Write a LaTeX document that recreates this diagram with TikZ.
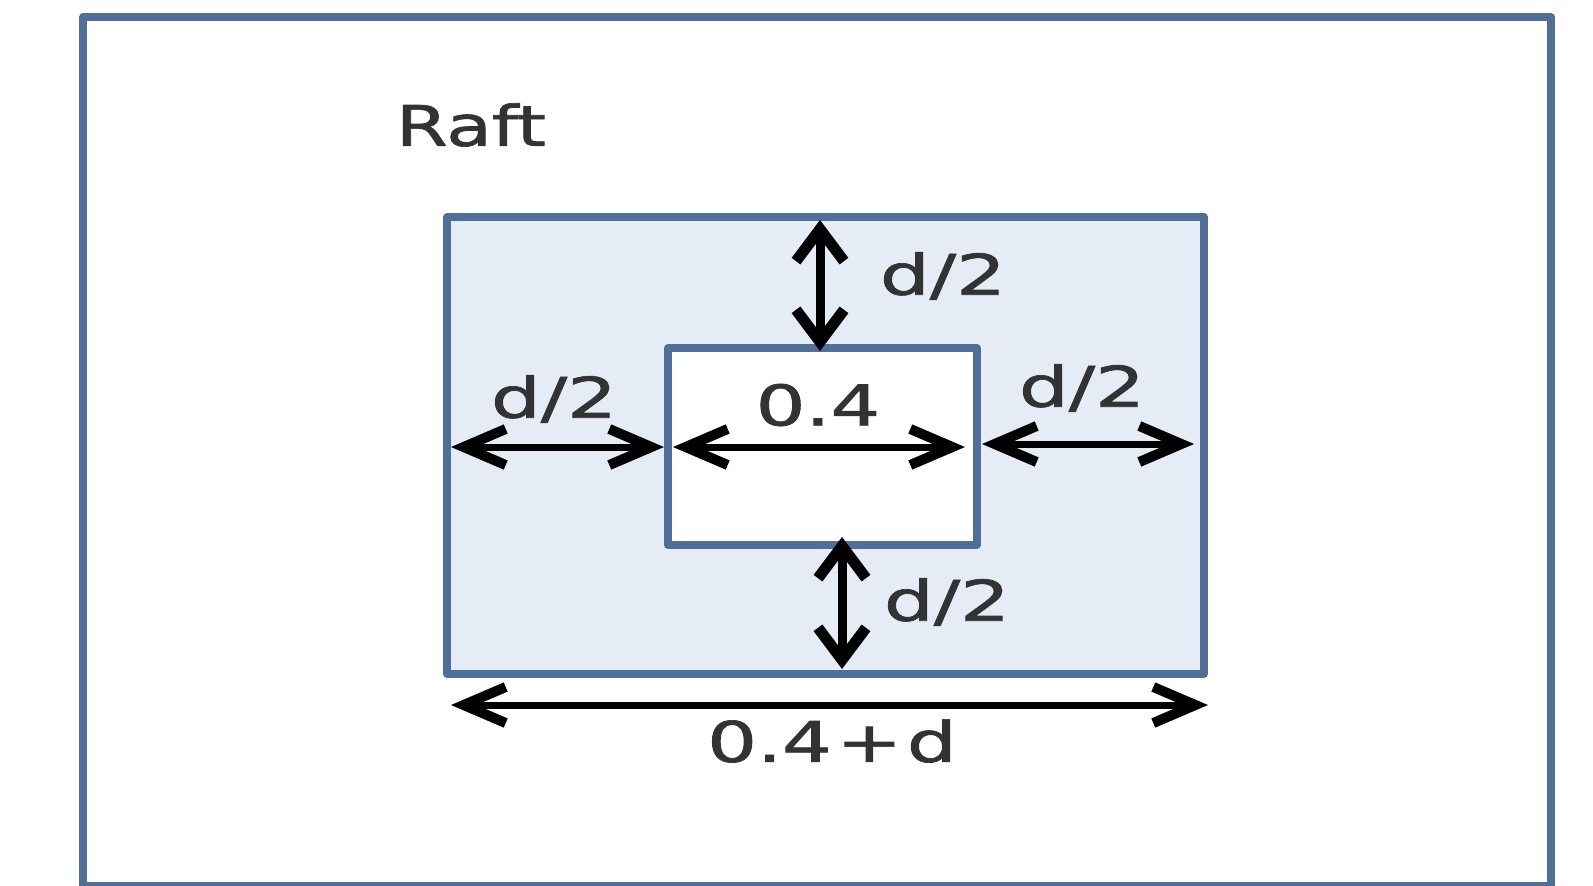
\documentclass[tikz,border=0pt]{standalone}
\usepackage{fontspec}
\setmainfont{DejaVu Sans}
\newfontfamily\raftfont[FakeBold=1.2]{DejaVu Sans}
\usetikzlibrary{arrows.meta}
\definecolor{raftblue}{HTML}{4F6F98}
\definecolor{raftfill}{HTML}{E6ECF6}
\begin{document}
\begin{tikzpicture}[%
        x=1pt, y=-1pt,
        myrect/.style={draw=raftblue, line width=7.5pt, line join=round},
        harrow/.style={draw=black, line width=7pt,
            {Straight Barb[length=42pt, width=36pt, line width=10pt]}-{Straight Barb[length=42pt, width=36pt, line width=10pt]}},
        varrow/.style={draw=black, line width=9pt,
            {Straight Barb[length=32pt, width=48pt, line width=11pt]}-{Straight Barb[length=32pt, width=48pt, line width=11pt]}},
        mylabel/.style={inner sep=0pt, text=black!80, xscale=1.4, transform shape,
            font=\raftfont\fontsize{56}{60}\selectfont}
    ]
        \useasboundingbox (0,0) rectangle (1593,886);
        \fill [white] (0,0) rectangle (1593,886);

        \coordinate (outerA) at (83,17);
        \coordinate (outerB) at (1551,886);
        \coordinate (raftA) at (447,217);
        \coordinate (raftB) at (1204,674);
        \coordinate (gateA) at (668,348);
        \coordinate (gateB) at (977,545);

        \draw [myrect] (outerA) rectangle (outerB);
        \draw [myrect, fill=raftfill] (raftA) rectangle (raftB);
        \draw [myrect, fill=white] (gateA) rectangle (gateB);

        % arrow ends
        \foreach \n/\xa/\ya/\xb/\yb/\sty in
            {top/820/220/820/351/varrow, bottom/842/537/842/669/varrow,
             left/451/447/664/447/harrow, mid/673/447/965/447/harrow,
             right/982/444/1194/444/harrow, wide/451/705/1208/705/harrow}
        {
            \coordinate (\n A) at (\xa,\ya);
            \coordinate (\n B) at (\xb,\yb);
            \draw [\sty] (\n A) -- (\n B);
        }

        \node [mylabel, xscale=0.95] (raftlabel) at (471,125) {Raft};
        \node [mylabel] (toplabel) at (943,276) {d/2};
        \node [mylabel] (leftlabel) at (554,399) {d/2};
        \node [mylabel] (midlabel) at (818,405) {0.4};
        \node [mylabel] (rightlabel) at (1082,388) {d/2};
        \node [mylabel] (bottomlabel) at (947,602) {d/2};
        \node [mylabel] (widelabel) at (832,741) {\spaceskip=0.06em 0.4 + d};
\end{tikzpicture}
\end{document}
